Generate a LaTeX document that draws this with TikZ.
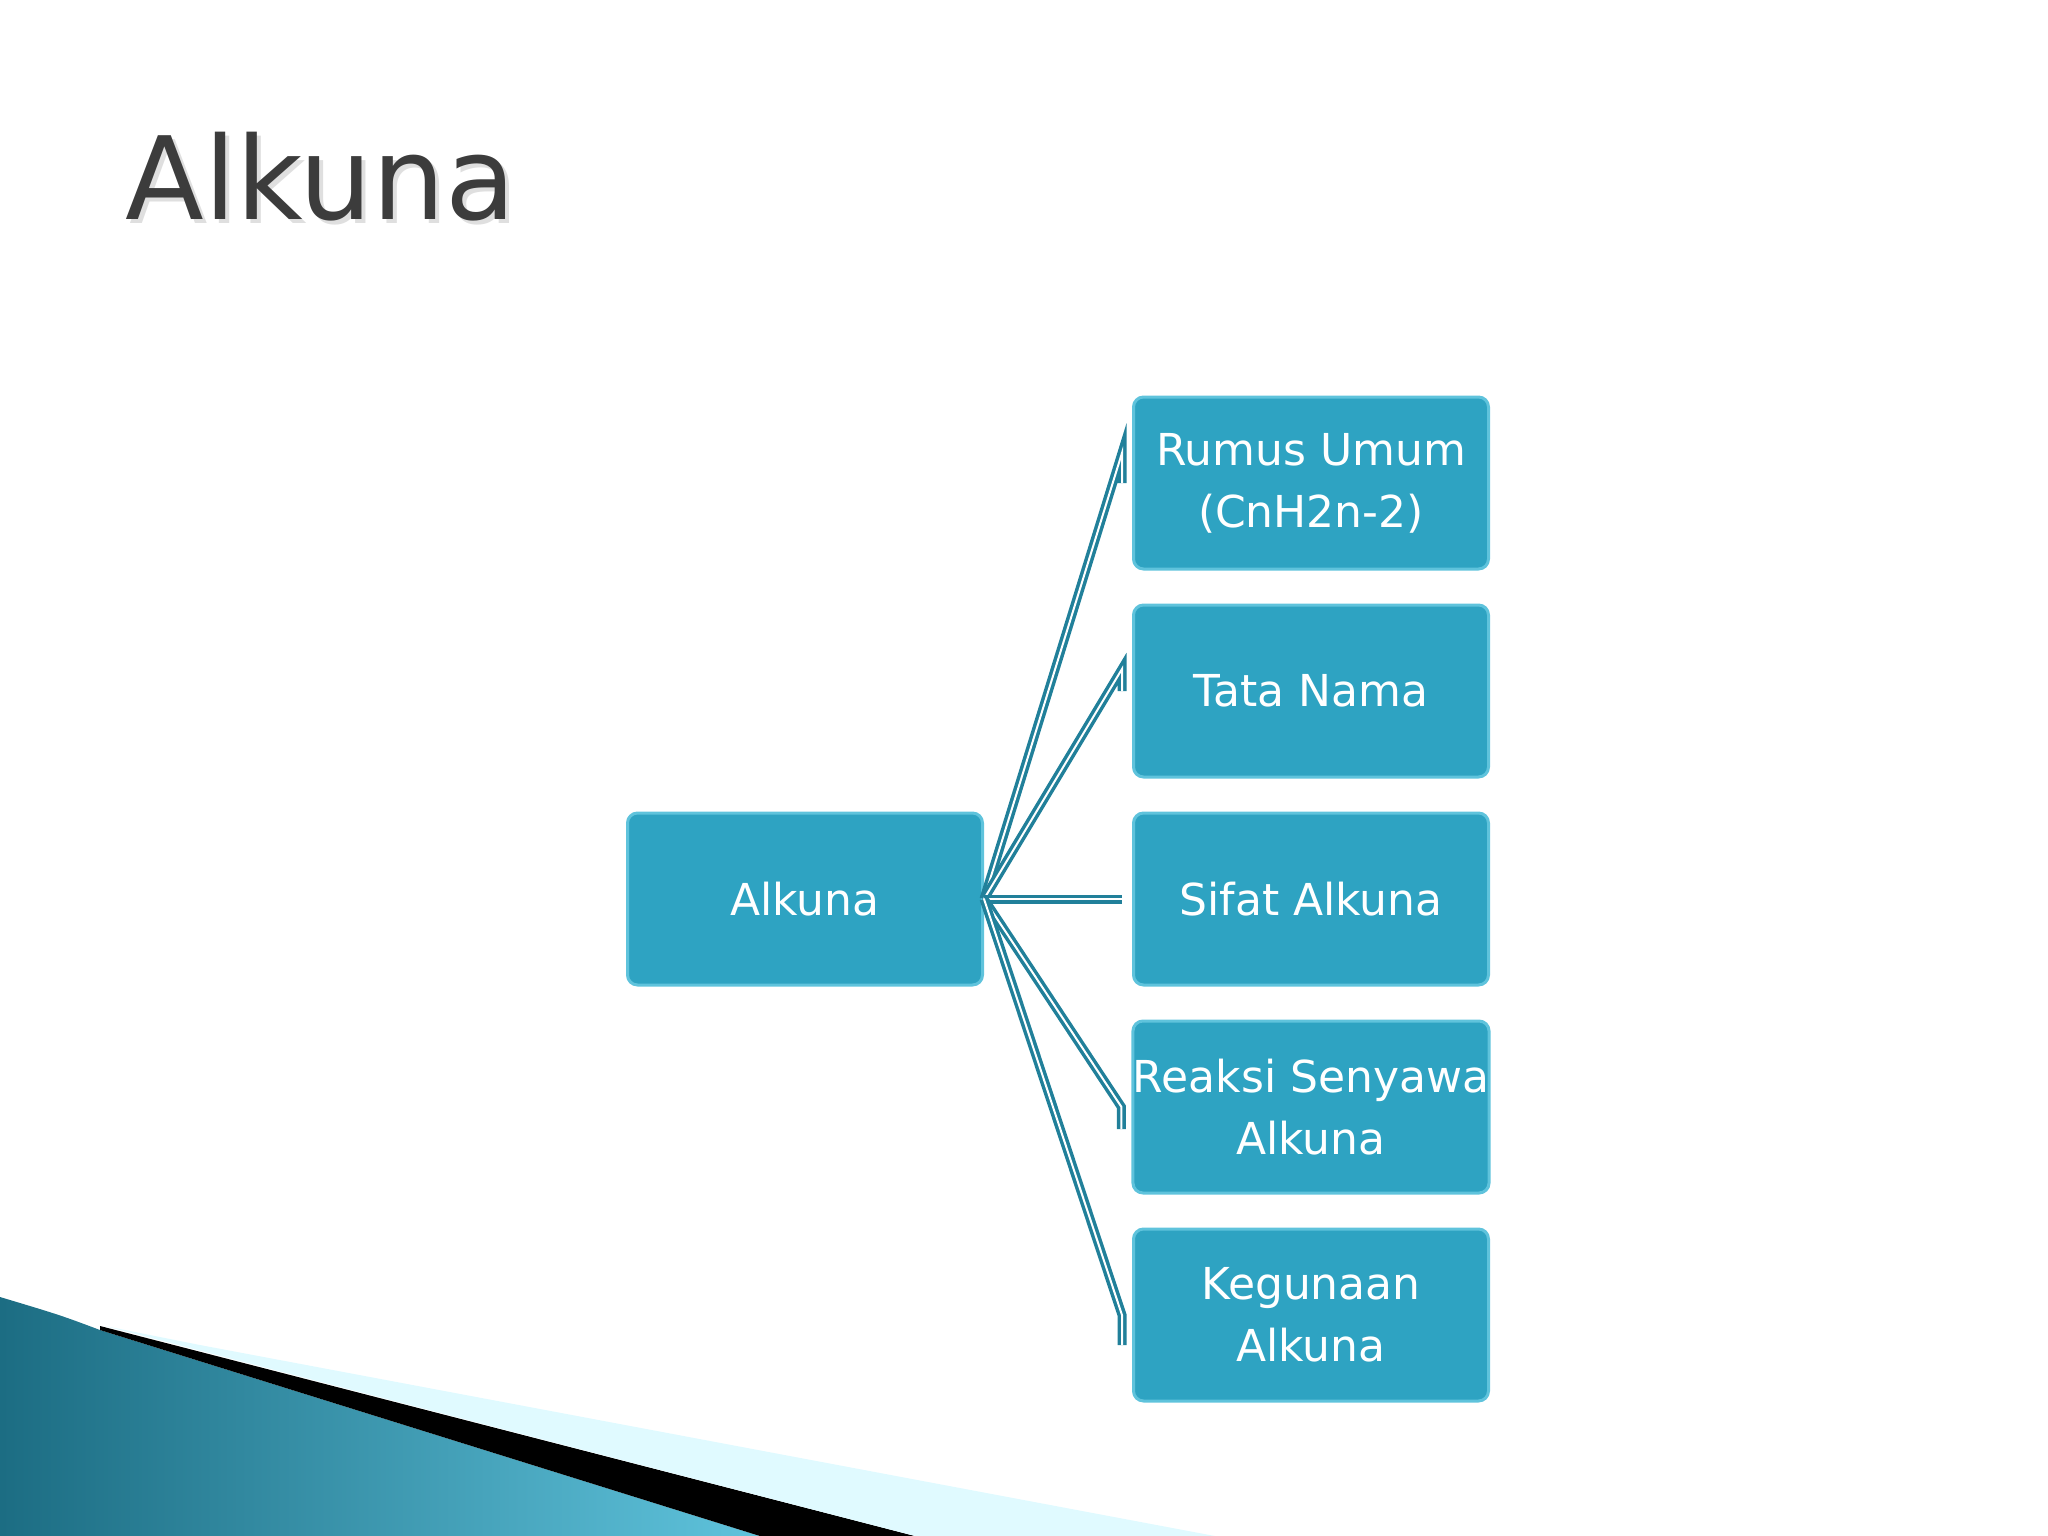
\documentclass[tikz,border=0pt]{standalone}
\usepackage{fontspec}
\setmainfont{DejaVu Sans}
\definecolor{boxfill}{HTML}{2EA3C2}
\definecolor{boxline}{HTML}{5FC3DC}
\definecolor{conn}{HTML}{21809A}
\definecolor{titlec}{HTML}{3C3C3C}
\begin{document}
\begin{tikzpicture}[x=1pt,y=-1pt,
  box/.style={draw=boxline,line width=3pt,fill=boxfill,rounded corners=10pt,minimum width=355pt,minimum height=172pt,align=center,text=white,font=\fontsize{44}{62}\selectfont,inner sep=0pt},
  link/.style={double=white,draw=conn,line width=3.5pt,double distance=2pt}]
\useasboundingbox (0,0) rectangle (2048,1536);
% background decoration
\shade[left color=conn!85!black,right color=boxline] (0,1297) .. controls (60,1315) .. (100,1330) -- (760,1536) -- (0,1536) -- cycle;
\fill[black] (100,1326) -- (915,1536) -- (760,1536) -- (100,1330) -- cycle;
\fill[blue!15!cyan!12!white] (105,1326) -- (200,1345) -- (1215,1536) -- (915,1536) -- cycle;
% title
\node[anchor=west,text=gray!25,font=\fontsize{115}{115}\selectfont] at (126,181) {Alkuna};
\node (title) [anchor=west,text=titlec,font=\fontsize{115}{115}\selectfont] at (122,177) {Alkuna};
% nodes
\node[box] (main) at (805,899) {Alkuna};
\node[box] (b1) at (1311,483) {Rumus Umum\\(CnH2n-2)};
\node[box] (b2) at (1311,691) {Tata Nama};
\node[box] (b3) at (1311,899) {Sifat Alkuna};
\node[box] (b4) at (1311,1107) {Reaksi Senyawa\\Alkuna};
\node[box] (b5) at (1311,1315) {Kegunaan\\Alkuna};
% connectors
\coordinate (hub) at (main.east);
\foreach \b/\ya/\yb in {b1/-30/0, b2/-22/0, b3/0/0, b4/0/22, b5/0/30}{
  \draw[link] (hub) -- ([xshift=-10pt,yshift=-\ya pt]\b.west) -- ([xshift=-10pt,yshift=-\yb pt]\b.west);
}
\end{tikzpicture}
\end{document}
